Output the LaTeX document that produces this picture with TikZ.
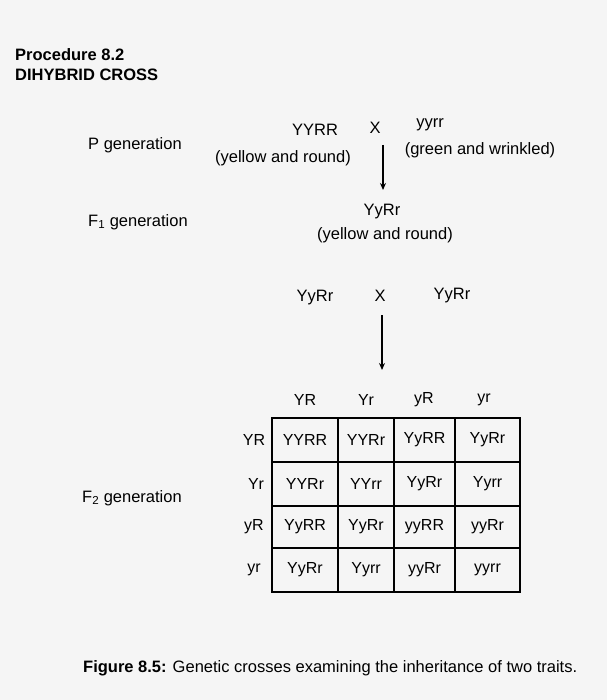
\documentclass[tikz,border=0pt]{standalone}
\usepackage{fontspec}
\setmainfont{Liberation Sans}
\usetikzlibrary{arrows.meta}
\begin{document}
\begin{tikzpicture}[x=1pt,y=-1pt,
  txt/.style={font=\fontsize{16.5}{18}\selectfont,inner sep=0pt},
  cell/.style={font=\fontsize{16}{18}\selectfont,inner sep=0pt},
  arr/.style={-{Stealth[length=7pt,width=6pt]},line width=1.2pt}]
\fill[gray!8] (0,0) rectangle (607,700);
\useasboundingbox (0,0) rectangle (607,700);
\node[txt,anchor=west,font=\bfseries\fontsize{16.5}{18}\selectfont] (t1) at (15,55) {Procedure 8.2};
\node[txt,anchor=west,font=\bfseries\fontsize{16.5}{18}\selectfont] (t2) at (15,75) {DIHYBRID CROSS};
\node[txt,anchor=west] (pg) at (88,145) {P generation};
\node[txt] (p1) at (315,130) {YYRR};
\node[txt] (px) at (375,128) {X};
\node[txt] (p2) at (430,125) {yyrr};
\node[txt] (p1d) at (283,158) {(yellow and round)};
\node[txt] (p2d) at (480,150) {(green and wrinkled)};
\coordinate (a1s) at (383,145);
\coordinate (a1e) at (383,190);
\draw[arr] (a1s) -- (a1e);
\node[txt,anchor=west] (fg) at (88,222) {F\textsubscript{1} generation};
\node[txt] (f1) at (382,212) {YyRr};
\node[txt] (f1d) at (385,235) {(yellow and round)};
\node[txt] (q1) at (315,298) {YyRr};
\node[txt] (qx) at (380,296) {X};
\node[txt] (q2) at (452,296) {YyRr};
\coordinate (a2s) at (382,315);
\coordinate (a2e) at (382,370);
\draw[arr] (a2s) -- (a2e);
\node[txt,anchor=west] (f2) at (82,498) {F\textsubscript{2} generation};
\node[cell] (h1) at (305,400) {YR};
\node[cell] (h2) at (366,400) {Yr};
\node[cell] (h3) at (424,400) {yR};
\node[cell] (h4) at (484,400) {yr};
\draw[line width=1.3pt] (272,418) rectangle (520,592);
\foreach \x in {338,394,455} \draw[line width=1.3pt] (\x,418) -- (\x,592);
\foreach \y in {462,506,548} \draw[line width=1.3pt] (272,\y) -- (520,\y);
\node[cell] (r1) at (254,440) {YR};
\node[cell] (r2) at (256,484) {Yr};
\node[cell] (r3) at (254,527) {yR};
\node[cell] (r4) at (254,570) {yr};
\foreach \r/\y/\a/\b/\c/\d in {1/440/YYRR/YYRr/YyRR/YyRr, 2/484/YYRr/YYrr/YyRr/Yyrr, 3/527/YyRR/YyRr/yyRR/yyRr, 4/570/YyRr/Yyrr/yyRr/yyrr}{
  \node[cell] (c\r a) at (305,\y) {\a};
  \node[cell] (c\r b) at (366,\y) {\b};
  \node[cell] (c\r c) at (424.5,\y) {\c};
  \node[cell] (c\r d) at (487.5,\y) {\d};
}
\node[txt,anchor=west] (cap) at (83,668) {\textbf{Figure 8.5:} Genetic crosses examining the inheritance of two traits.};
\end{tikzpicture}
\end{document}
